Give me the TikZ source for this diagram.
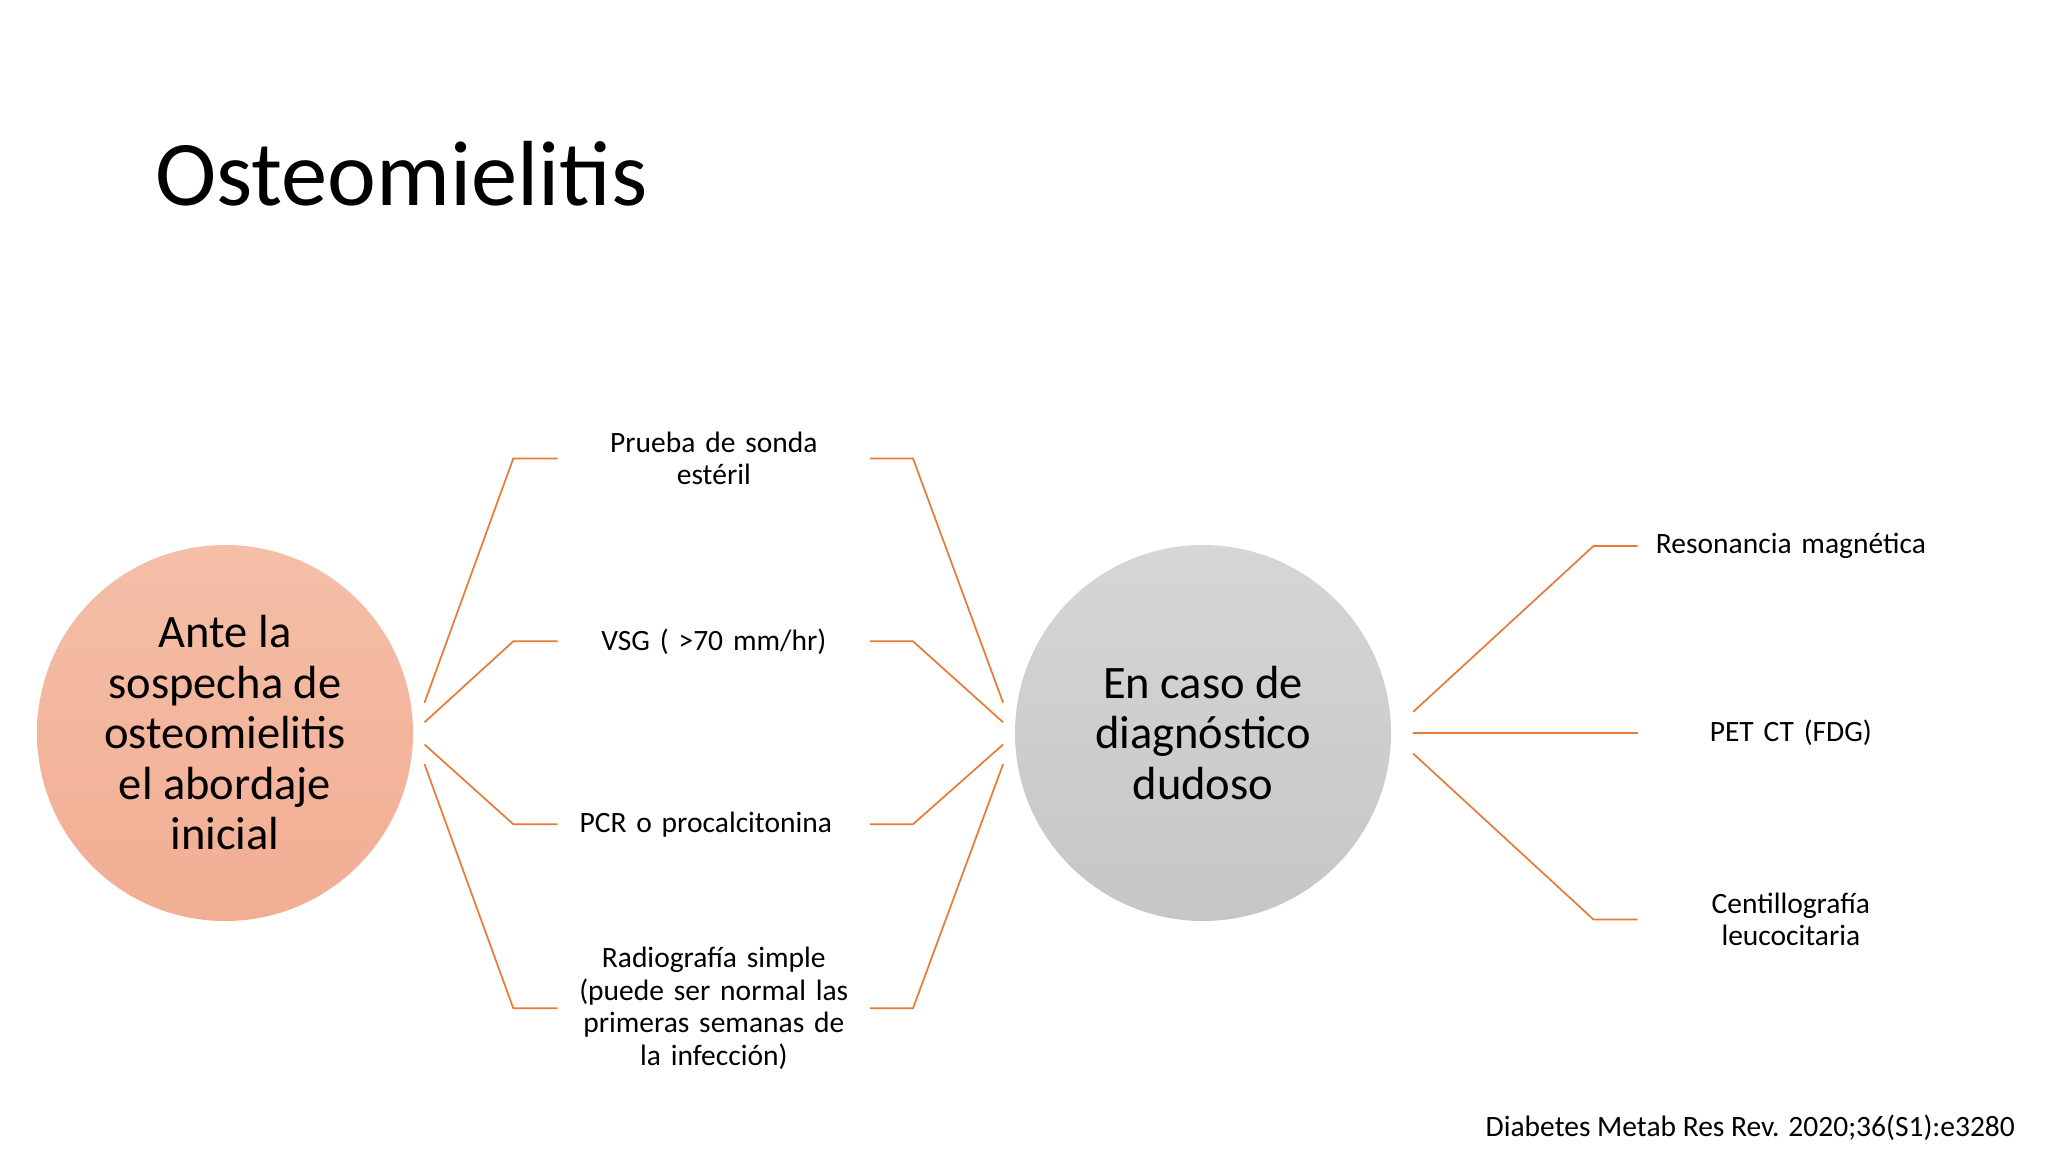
\documentclass[tikz,border=0pt]{standalone}
\usepackage{fontspec}
\setmainfont{Carlito}
\newfontfamily\titlefont{Carlito}[FakeBold=-0.6]
\definecolor{lineor}{HTML}{E97A35}
\definecolor{salmtop}{HTML}{F5BEA7}
\definecolor{salmbot}{HTML}{F1AE93}
\definecolor{greytop}{HTML}{D6D6D6}
\definecolor{greybot}{HTML}{C6C6C6}
\tikzset{
  bigcirc/.style={circle, minimum size=376pt, inner sep=0pt, align=center,
    font=\fontsize{46.5}{50.5}\selectfont},
  lbl/.style={inner xsep=0pt, inner ysep=0pt, align=center,
    font=\fontsize{29.5}{32.6}\selectfont},
  midlbl/.style={lbl, text width=312.2pt},
  rlbl/.style={lbl, text width=306pt},
  conn/.style={draw=lineor, line width=1.7pt, line join=miter}
}
\begin{document}
\begin{tikzpicture}[x=1pt,y=-1pt]
\useasboundingbox (0,0) rectangle (2048,1152);
\fill[white] (0,0) rectangle (2048,1152);

% title
\node[anchor=base west, inner sep=0pt, font=\titlefont\fontsize{92.5}{100}\selectfont] (title) at (155,205) {Osteomielitis};

% circles
\node[bigcirc, top color=salmtop, bottom color=salmbot] (left) at (225,733) {Ante la\\sospecha de\\osteomielitis\\el abordaje\\inicial};
\node[bigcirc, top color=greytop, bottom color=greybot] (right) at (1203,733) {En caso de\\diagnóstico\\dudoso};

% middle labels
\node[midlbl] (m1) at (713.8,458.4) {Prueba de sonda\\estéril};
\node[midlbl] (m2) at (713.8,641.3) {VSG ( >70 mm/hr)};
\node[midlbl] (m3) at (713.8,824.2) {PCR o procalcitonina\hspace*{16pt}\mbox{}};
\node[midlbl] (m4) at (713.8,1008.3) {Radiografía simple\\(puede ser normal las\\primeras semanas de\\la infección)};

% right labels
\node[rlbl] (r1) at (1790.9,546) {Resonancia magnética};
\node[rlbl] (r2) at (1790.9,732.7) {PET CT (FDG)};
\node[rlbl] (r3) at (1790.9,919.5) {Centillografía\\leucocitaria};

% footer
\node[anchor=base east, inner sep=0pt, font=\fontsize{29.5}{32}\selectfont] (ref) at (2015,1136) {Diabetes Metab Res Rev. 2020;36(S1):e3280};

% connector coordinates
\coordinate (la1) at (424.5,702.7);
\coordinate (la2) at (424.5,722.3);
\coordinate (la3) at (424.5,744.5);
\coordinate (la4) at (424.5,764.1);
\coordinate (le1) at (513.3,458.4);
\coordinate (le2) at (513.3,641.3);
\coordinate (le3) at (513.3,824.2);
\coordinate (le4) at (513.3,1008.3);
\coordinate (re1) at (913,458.4);
\coordinate (re2) at (913,641.3);
\coordinate (re3) at (913,824.2);
\coordinate (re4) at (913,1008.3);
\coordinate (ra1) at (1003.1,702.7);
\coordinate (ra2) at (1003.1,722.3);
\coordinate (ra3) at (1003.1,744.5);
\coordinate (ra4) at (1003.1,764.1);
\coordinate (sa1) at (1413.2,711.8);
\coordinate (sa2) at (1413.2,732.7);
\coordinate (sa3) at (1413.2,753.6);
\coordinate (se1) at (1593.5,546);
\coordinate (se3) at (1593.5,919.5);

% connectors
\draw[conn] (la1) -- (le1) -- (m1.west);
\draw[conn] (la2) -- (le2) -- (m2.west);
\draw[conn] (la3) -- (le3) -- (m3.west);
\draw[conn] (la4) -- (le4) -- (m4.west);
\draw[conn] (m1.east) -- (re1) -- (ra1);
\draw[conn] (m2.east) -- (re2) -- (ra2);
\draw[conn] (m3.east) -- (re3) -- (ra3);
\draw[conn] (m4.east) -- (re4) -- (ra4);
\draw[conn] (sa1) -- (se1) -- (r1.west);
\draw[conn] (sa2) -- (r2.west);
\draw[conn] (sa3) -- (se3) -- (r3.west);
\end{tikzpicture}
\end{document}
